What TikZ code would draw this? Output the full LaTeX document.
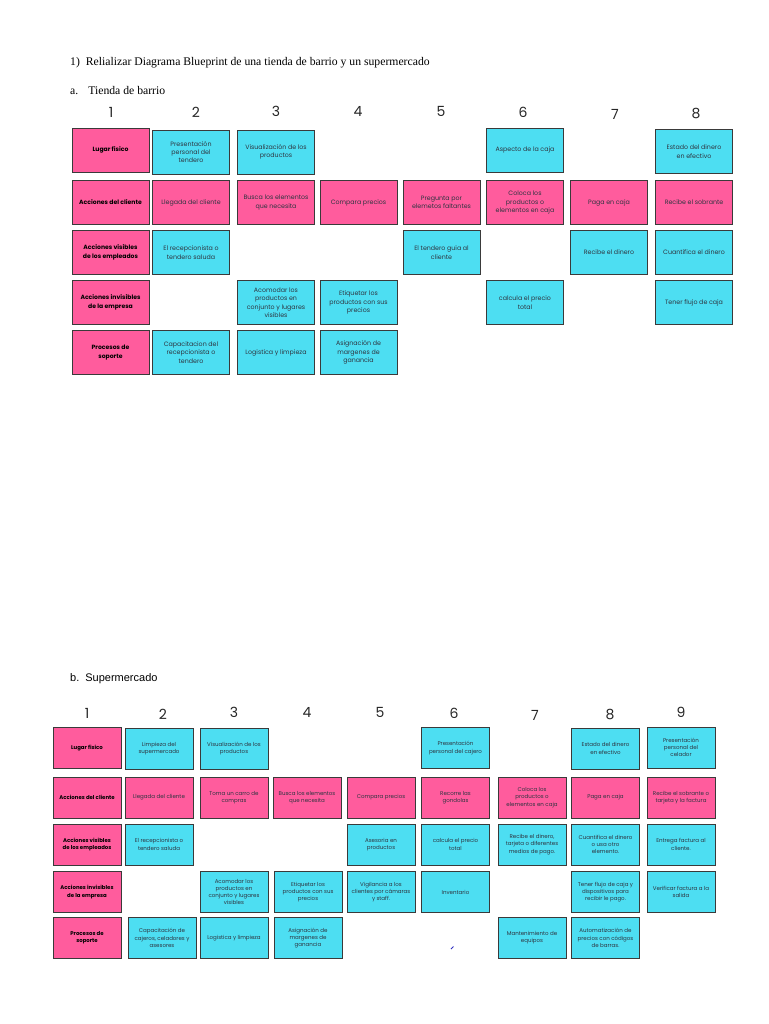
\documentclass[tikz,border=0pt]{standalone}
\usepackage{fontspec}
\setmainfont{Liberation Serif}
\newfontfamily\boxfont{Poppins}
\newfontfamily\arialfont{Liberation Sans}
\definecolor{pinkc}{HTML}{FF5C9D}
\definecolor{cyanc}{HTML}{4DDEF2}
\definecolor{edgec}{HTML}{3A3A3A}
\definecolor{txtc}{HTML}{2E3440}
\definecolor{markc}{HTML}{3030C0}
\begin{document}
\begin{tikzpicture}[x=1pt,y=-1pt,
 cell/.style={draw=edgec, line width=0.9pt, align=center, inner sep=1pt, text=txtc},
 pk/.style={cell, fill=pinkc},
 bl/.style={cell, fill=cyanc},
 ta/.style={minimum width=77pt, minimum height=44pt, font=\boxfont\fontsize{6.3}{8.4}\selectfont},
 tb/.style={minimum width=68pt, minimum height=41pt, font=\boxfont\fontsize{5.5}{7.2}\selectfont},
 hda/.style={pk, ta, text=black, font=\boxfont\bfseries\fontsize{6.1}{8.4}\selectfont},
 hdb/.style={pk, tb, text=black, font=\boxfont\bfseries\fontsize{5.4}{7.2}\selectfont},
 num/.style={font=\boxfont\fontsize{14}{14}\selectfont, text=black!85},
]
\useasboundingbox (0,0) rectangle (768,1024);
\fill[white] (0,0) rectangle (768,1024);

% ---------- headings ----------
\node[anchor=base west, font=\fontsize{11.7}{13}\selectfont, inner sep=0] (title) at (70,66) {1)\hspace{6pt}Relializar Diagrama Blueprint de una tienda de barrio y un supermercado};
\node[anchor=base west, font=\fontsize{11.7}{13}\selectfont, inner sep=0] (suba) at (70,95) {a.\hspace{10pt}Tienda de barrio};
\node[anchor=base west, font=\arialfont\fontsize{11}{13}\selectfont, inner sep=0] (subb) at (70,681) {b.\hspace{6pt}Supermercado};

% ---------- top table: numbers ----------
\node[num] (an1) at (111,112) {1};
\node[num] (an2) at (196,112) {2};
\node[num] (an3) at (276,111) {3};
\node[num] (an4) at (358,111) {4};
\node[num] (an5) at (441,111) {5};
\node[num] (an6) at (523,112) {6};
\node[num] (an7) at (615,114) {7};
\node[num] (an8) at (696,114) {8};

% ---------- top table: row 1 ----------
\node[hda] (a11) at (110.5,150) {Lugar fisico};
\node[bl,ta] (a12) at (191,152) {Presentación\\personal del\\tendero};
\node[bl,ta] (a13) at (276,152) {Visualización de los\\productos};
\node[bl,ta] (a16) at (525,150) {Aspecto de la caja};
\node[bl,ta] (a18) at (694,151.5) {Estado del dinero\\en efectivo};
% row 2
\node[hda] (a21) at (110.5,202.5) {Acciones del cliente};
\node[pk,ta] (a22) at (191,202.5) {Llegada del cliente};
\node[pk,ta] (a23) at (276,202.5) {Busca los elementos\\que necesita};
\node[pk,ta] (a24) at (358.5,202.5) {Compara precios};
\node[pk,ta] (a25) at (441.5,202.5) {Pregunta por\\elemetos faltantes};
\node[pk,ta] (a26) at (525,202.5) {Coloca los\\productos o\\elementos en caja};
\node[pk,ta] (a27) at (609,202.5) {Paga en caja};
\node[pk,ta] (a28) at (694,202.5) {Recibe el sobrante};
% row 3
\node[hda] (a31) at (110.5,252.5) {Acciones visibles\\de los empleados};
\node[bl,ta] (a32) at (191,252.5) {El recepcionista o\\tendero saluda};
\node[bl,ta] (a35) at (441.5,252.5) {El tendero guia al\\cliente};
\node[bl,ta] (a37) at (609,252.5) {Recibe el dinero};
\node[bl,ta] (a38) at (694,252.5) {Cuantifica el dinero};
% row 4
\node[hda] (a41) at (110.5,302.5) {Acciones invisibles\\de la empresa};
\node[bl,ta] (a43) at (276,302.5) {Acomodar los\\productos en\\conjunto y lugares\\visibles};
\node[bl,ta] (a44) at (358.5,302.5) {Etiquetar los\\productos con sus\\precios};
\node[bl,ta] (a46) at (525,302.5) {calcula el precio\\total};
\node[bl,ta] (a48) at (694,302.5) {Tener flujo de caja};
% row 5
\node[hda] (a51) at (110.5,352.5) {Procesos de\\soporte};
\node[bl,ta] (a52) at (191,352.5) {Capacitacion del\\recepcionista o\\tendero};
\node[bl,ta] (a53) at (276,352.5) {Logistica y limpieza};
\node[bl,ta] (a54) at (358.5,352.5) {Asignación de\\margenes de\\ganancia};

% ---------- bottom table: numbers ----------
\node[num] (bn1) at (87,713) {1};
\node[num] (bn2) at (163,714) {2};
\node[num] (bn3) at (234,712) {3};
\node[num] (bn4) at (307,712) {4};
\node[num] (bn5) at (380,712) {5};
\node[num] (bn6) at (454,713) {6};
\node[num] (bn7) at (535,715) {7};
\node[num] (bn8) at (610,714) {8};
\node[num] (bn9) at (681,712) {9};

% row 1
\node[hdb] (b11) at (87,748) {Lugar fisico};
\node[bl,tb] (b12) at (159,748.5) {Limpieza del\\supermercado};
\node[bl,tb] (b13) at (234,748.5) {Visualización de los\\productos};
\node[bl,tb] (b16) at (455.5,748) {Presentación\\personal del cajero};
\node[bl,tb] (b18) at (605.5,748.5) {Estado del dinero\\en efectivo};
\node[bl,tb] (b19) at (681,747.5) {Presentación\\personal del\\celador};
% row 2
\node[hdb] (b21) at (87,797.5) {Acciones del cliente};
\node[pk,tb] (b22) at (159,797.5) {Llegada del cliente};
\node[pk,tb] (b23) at (234,797.5) {Toma un carro de\\compras};
\node[pk,tb] (b24) at (307,797.5) {Busca los elementos\\que necesita};
\node[pk,tb] (b25) at (381,797.5) {Compara precios};
\node[pk,tb] (b26) at (455.5,797.5) {Recorre las\\gondolas};
\node[pk,tb] (b27) at (532,797.5) {Coloca los\\productos o\\elementos en caja};
\node[pk,tb] (b28) at (605.5,797.5) {Paga en caja};
\node[pk,tb] (b29) at (681,797.5) {Recibe el sobrante o\\tarjeta y la factura};
% row 3
\node[hdb] (b31) at (87,844.5) {Acciones visibles\\de los empleados};
\node[bl,tb] (b32) at (159,844.5) {El recepcionista o\\tendero saluda};
\node[bl,tb] (b35) at (381,844.5) {Asesoria en\\productos};
\node[bl,tb] (b36) at (455.5,844.5) {calcula el precio\\total};
\node[bl,tb] (b37) at (532,844.5) {Recibe el dinero,\\tarjeta o diferentes\\medios de pago.};
\node[bl,tb] (b38) at (605.5,844.5) {Cuantifica el dinero\\o usa otro\\elemento.};
\node[bl,tb] (b39) at (681,844.5) {Entrega factura al\\cliente.};
% row 4
\node[hdb] (b41) at (87,892) {Acciones invisibles\\de la empresa};
\node[bl,tb] (b43) at (234,892) {Acomodar los\\productos en\\conjunto y lugares\\visibles};
\node[bl,tb] (b44) at (308,892) {Etiquetar los\\productos con sus\\precios};
\node[bl,tb] (b45) at (381,892) {Vigilancia a los\\clientes por cámaras\\y staff.};
\node[bl,tb] (b46) at (455.5,892) {Inventario};
\node[bl,tb] (b48) at (605.5,892) {Tener flujo de caja y\\dispositivos para\\recibir le pago.};
\node[bl,tb] (b49) at (681,892) {Verificar factura a la\\salida};
% row 5
\node[hdb] (b51) at (87,938) {Procesos de\\soporte};
\node[bl,tb] (b52) at (162,938) {Capacitación de\\cajeros, celadores y\\asesores};
\node[bl,tb] (b53) at (234,938) {Logistica y limpieza};
\node[bl,tb] (b54) at (308,938) {Asignación de\\margenes de\\ganancia};
\node[bl,tb] (b57) at (532,938) {Mantenimiento de\\equipos};
\node[bl,tb] (b58) at (605.5,938) {Automatización de\\precios con códigos\\de barras.};

% stray mark
\draw[markc, line width=0.9pt] (451,949) -- (453.5,946.5);
\end{tikzpicture}
\end{document}
